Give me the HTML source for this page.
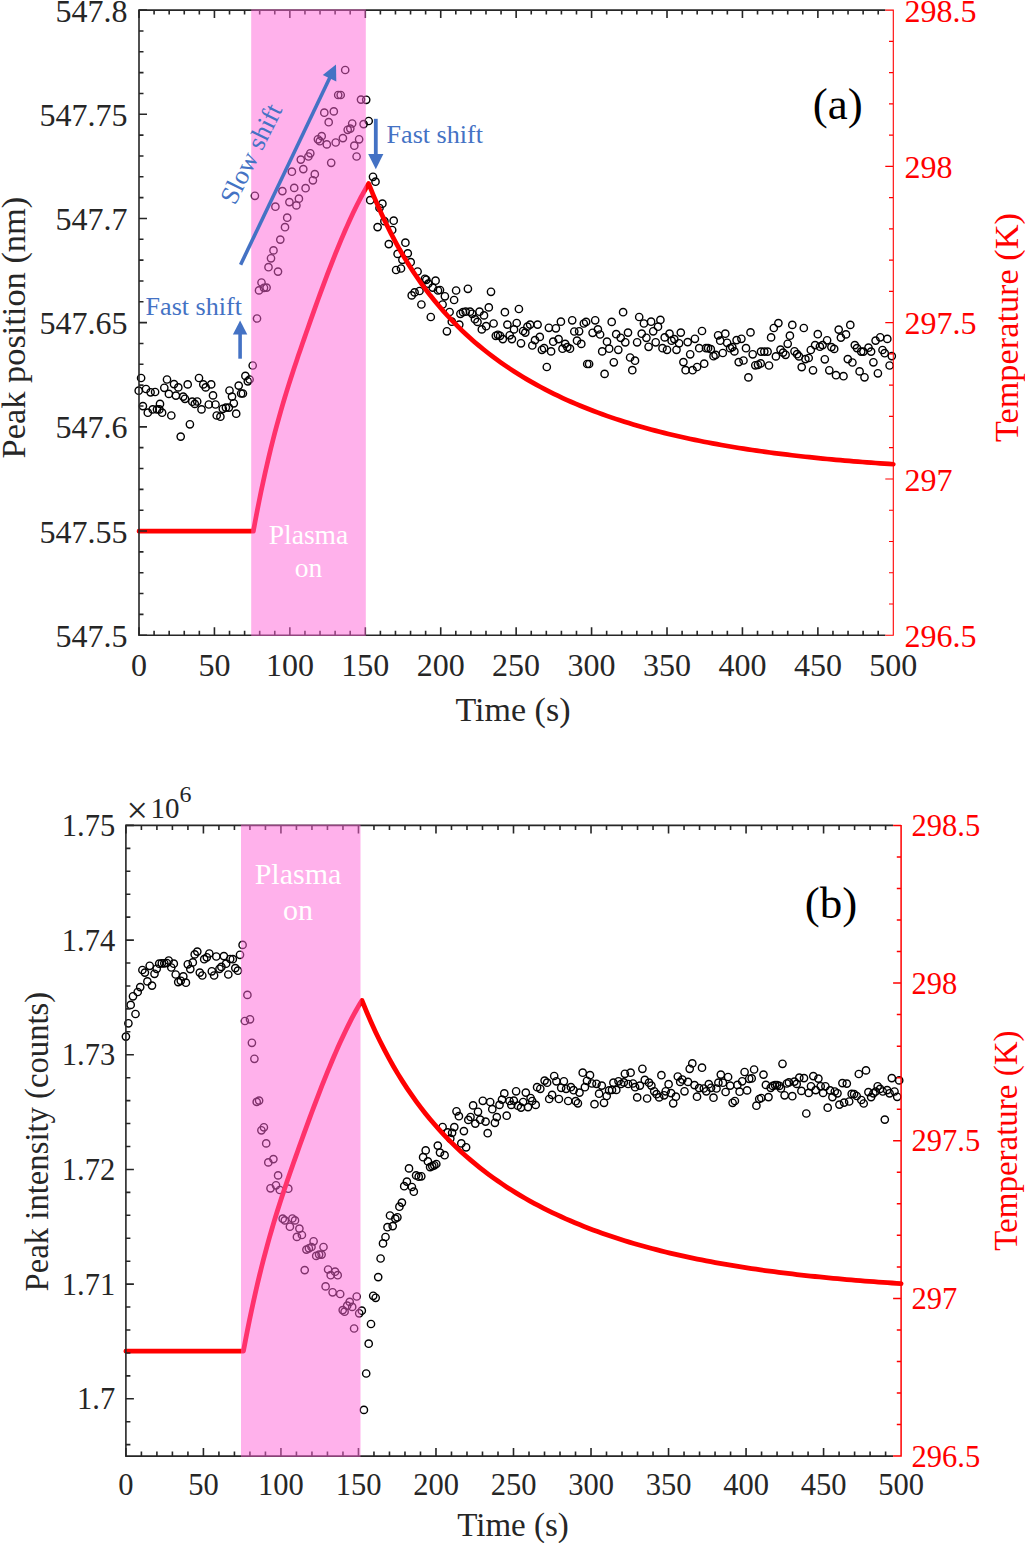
<!DOCTYPE html><html><head><meta charset="utf-8"><style>html,body{margin:0;padding:0;background:#fff}svg{display:block}text{font-family:"Liberation Serif", serif}</style></head><body>
<svg width="1025" height="1543" viewBox="0 0 1025 1543">
<rect width="1025" height="1543" fill="#fff"/>
<g fill="none" stroke="#000" stroke-width="1.40">
<circle cx="141.1" cy="378.0" r="3.65"/>
<circle cx="138.7" cy="390.7" r="3.65"/>
<circle cx="142.9" cy="406.1" r="3.65"/>
<circle cx="146.0" cy="389.0" r="3.65"/>
<circle cx="147.8" cy="412.7" r="3.65"/>
<circle cx="150.6" cy="392.3" r="3.65"/>
<circle cx="152.7" cy="409.4" r="3.65"/>
<circle cx="155.1" cy="392.0" r="3.65"/>
<circle cx="157.0" cy="409.4" r="3.65"/>
<circle cx="160.0" cy="403.9" r="3.65"/>
<circle cx="159.4" cy="409.4" r="3.65"/>
<circle cx="162.1" cy="412.7" r="3.65"/>
<circle cx="164.3" cy="387.8" r="3.65"/>
<circle cx="167.0" cy="379.5" r="3.65"/>
<circle cx="168.9" cy="393.9" r="3.65"/>
<circle cx="171.3" cy="415.5" r="3.65"/>
<circle cx="174.0" cy="384.1" r="3.65"/>
<circle cx="175.9" cy="395.6" r="3.65"/>
<circle cx="178.3" cy="387.4" r="3.65"/>
<circle cx="180.7" cy="436.6" r="3.65"/>
<circle cx="183.2" cy="396.6" r="3.65"/>
<circle cx="185.0" cy="398.8" r="3.65"/>
<circle cx="187.7" cy="384.4" r="3.65"/>
<circle cx="189.9" cy="424.3" r="3.65"/>
<circle cx="192.3" cy="401.7" r="3.65"/>
<circle cx="194.8" cy="403.9" r="3.65"/>
<circle cx="197.2" cy="401.5" r="3.65"/>
<circle cx="199.0" cy="378.0" r="3.65"/>
<circle cx="201.5" cy="409.4" r="3.65"/>
<circle cx="203.3" cy="384.4" r="3.65"/>
<circle cx="205.7" cy="387.4" r="3.65"/>
<circle cx="208.8" cy="404.5" r="3.65"/>
<circle cx="211.2" cy="384.4" r="3.65"/>
<circle cx="213.0" cy="395.4" r="3.65"/>
<circle cx="215.5" cy="404.5" r="3.65"/>
<circle cx="216.7" cy="415.5" r="3.65"/>
<circle cx="220.4" cy="416.7" r="3.65"/>
<circle cx="222.8" cy="408.8" r="3.65"/>
<circle cx="225.9" cy="407.6" r="3.65"/>
<circle cx="228.9" cy="407.6" r="3.65"/>
<circle cx="229.5" cy="390.5" r="3.65"/>
<circle cx="232.0" cy="396.6" r="3.65"/>
<circle cx="233.8" cy="403.3" r="3.65"/>
<circle cx="236.2" cy="413.7" r="3.65"/>
<circle cx="238.7" cy="385.6" r="3.65"/>
<circle cx="241.1" cy="393.5" r="3.65"/>
<circle cx="242.9" cy="393.5" r="3.65"/>
<circle cx="245.4" cy="375.9" r="3.65"/>
<circle cx="247.8" cy="381.3" r="3.65"/>
<circle cx="249.6" cy="379.5" r="3.65"/>
<circle cx="252.7" cy="365.5" r="3.65"/>
<circle cx="345.2" cy="70.0" r="3.65"/>
<circle cx="338.2" cy="95.0" r="3.65"/>
<circle cx="340.7" cy="95.0" r="3.65"/>
<circle cx="361.0" cy="99.6" r="3.65"/>
<circle cx="324.3" cy="112.7" r="3.65"/>
<circle cx="333.8" cy="111.4" r="3.65"/>
<circle cx="328.7" cy="122.2" r="3.65"/>
<circle cx="352.2" cy="123.5" r="3.65"/>
<circle cx="363.6" cy="124.1" r="3.65"/>
<circle cx="347.7" cy="129.8" r="3.65"/>
<circle cx="350.3" cy="128.6" r="3.65"/>
<circle cx="321.7" cy="136.2" r="3.65"/>
<circle cx="317.9" cy="139.3" r="3.65"/>
<circle cx="319.8" cy="141.2" r="3.65"/>
<circle cx="326.8" cy="144.4" r="3.65"/>
<circle cx="335.7" cy="142.5" r="3.65"/>
<circle cx="342.9" cy="138.1" r="3.65"/>
<circle cx="359.1" cy="139.3" r="3.65"/>
<circle cx="354.3" cy="145.7" r="3.65"/>
<circle cx="356.6" cy="156.5" r="3.65"/>
<circle cx="331.2" cy="162.8" r="3.65"/>
<circle cx="310.3" cy="153.3" r="3.65"/>
<circle cx="308.4" cy="156.5" r="3.65"/>
<circle cx="300.8" cy="159.6" r="3.65"/>
<circle cx="303.3" cy="169.1" r="3.65"/>
<circle cx="291.9" cy="171.7" r="3.65"/>
<circle cx="314.8" cy="174.2" r="3.65"/>
<circle cx="312.9" cy="180.3" r="3.65"/>
<circle cx="282.4" cy="191.1" r="3.65"/>
<circle cx="294.2" cy="187.9" r="3.65"/>
<circle cx="305.6" cy="188.2" r="3.65"/>
<circle cx="254.9" cy="195.8" r="3.65"/>
<circle cx="298.9" cy="198.7" r="3.65"/>
<circle cx="289.4" cy="202.1" r="3.65"/>
<circle cx="296.4" cy="205.4" r="3.65"/>
<circle cx="275.4" cy="206.7" r="3.65"/>
<circle cx="287.2" cy="217.7" r="3.65"/>
<circle cx="285.0" cy="227.2" r="3.65"/>
<circle cx="280.3" cy="239.6" r="3.65"/>
<circle cx="273.5" cy="250.4" r="3.65"/>
<circle cx="271.0" cy="258.3" r="3.65"/>
<circle cx="268.5" cy="267.2" r="3.65"/>
<circle cx="278.0" cy="271.6" r="3.65"/>
<circle cx="261.5" cy="282.5" r="3.65"/>
<circle cx="259.0" cy="290.4" r="3.65"/>
<circle cx="264.0" cy="287.8" r="3.65"/>
<circle cx="266.6" cy="287.6" r="3.65"/>
<circle cx="257.0" cy="318.5" r="3.65"/>
<circle cx="366.2" cy="99.8" r="3.65"/>
<circle cx="368.7" cy="121.0" r="3.65"/>
<circle cx="373.0" cy="176.8" r="3.65"/>
<circle cx="375.5" cy="181.7" r="3.65"/>
<circle cx="370.2" cy="200.2" r="3.65"/>
<circle cx="382.4" cy="203.7" r="3.65"/>
<circle cx="379.5" cy="208.0" r="3.65"/>
<circle cx="384.4" cy="221.2" r="3.65"/>
<circle cx="393.7" cy="220.7" r="3.65"/>
<circle cx="377.6" cy="227.1" r="3.65"/>
<circle cx="392.2" cy="230.0" r="3.65"/>
<circle cx="405.4" cy="242.7" r="3.65"/>
<circle cx="388.8" cy="244.1" r="3.65"/>
<circle cx="397.6" cy="253.9" r="3.65"/>
<circle cx="407.8" cy="253.4" r="3.65"/>
<circle cx="402.4" cy="259.8" r="3.65"/>
<circle cx="410.7" cy="262.2" r="3.65"/>
<circle cx="396.1" cy="270.0" r="3.65"/>
<circle cx="401.0" cy="268.5" r="3.65"/>
<circle cx="417.6" cy="271.5" r="3.65"/>
<circle cx="424.9" cy="278.8" r="3.65"/>
<circle cx="426.3" cy="279.8" r="3.65"/>
<circle cx="435.6" cy="280.7" r="3.65"/>
<circle cx="428.3" cy="283.7" r="3.65"/>
<circle cx="432.7" cy="287.6" r="3.65"/>
<circle cx="438.0" cy="290.5" r="3.65"/>
<circle cx="440.0" cy="290.0" r="3.65"/>
<circle cx="456.1" cy="290.5" r="3.65"/>
<circle cx="444.9" cy="296.3" r="3.65"/>
<circle cx="454.1" cy="300.0" r="3.65"/>
<circle cx="411.7" cy="295.4" r="3.65"/>
<circle cx="414.6" cy="292.4" r="3.65"/>
<circle cx="419.5" cy="291.0" r="3.65"/>
<circle cx="421.4" cy="304.5" r="3.65"/>
<circle cx="430.8" cy="317.0" r="3.65"/>
<circle cx="442.6" cy="304.5" r="3.65"/>
<circle cx="449.6" cy="312.0" r="3.65"/>
<circle cx="451.8" cy="321.7" r="3.65"/>
<circle cx="459.3" cy="324.6" r="3.65"/>
<circle cx="446.9" cy="331.3" r="3.65"/>
<circle cx="467.9" cy="288.8" r="3.65"/>
<circle cx="491.0" cy="291.8" r="3.65"/>
<circle cx="460.4" cy="313.8" r="3.65"/>
<circle cx="463.0" cy="312.2" r="3.65"/>
<circle cx="465.7" cy="311.7" r="3.65"/>
<circle cx="470.0" cy="311.7" r="3.65"/>
<circle cx="472.2" cy="313.8" r="3.65"/>
<circle cx="479.5" cy="311.7" r="3.65"/>
<circle cx="484.0" cy="315.4" r="3.65"/>
<circle cx="488.8" cy="307.4" r="3.65"/>
<circle cx="474.9" cy="319.2" r="3.65"/>
<circle cx="477.5" cy="321.9" r="3.65"/>
<circle cx="481.8" cy="329.4" r="3.65"/>
<circle cx="486.1" cy="326.2" r="3.65"/>
<circle cx="493.6" cy="323.5" r="3.65"/>
<circle cx="495.8" cy="335.8" r="3.65"/>
<circle cx="497.9" cy="334.8" r="3.65"/>
<circle cx="500.1" cy="335.8" r="3.65"/>
<circle cx="502.8" cy="339.1" r="3.65"/>
<circle cx="504.9" cy="312.2" r="3.65"/>
<circle cx="507.4" cy="324.6" r="3.65"/>
<circle cx="509.7" cy="335.3" r="3.65"/>
<circle cx="511.9" cy="339.1" r="3.65"/>
<circle cx="514.0" cy="329.4" r="3.65"/>
<circle cx="516.7" cy="323.0" r="3.65"/>
<circle cx="518.9" cy="309.0" r="3.65"/>
<circle cx="521.0" cy="343.3" r="3.65"/>
<circle cx="523.1" cy="331.0" r="3.65"/>
<circle cx="525.3" cy="332.6" r="3.65"/>
<circle cx="527.4" cy="326.7" r="3.65"/>
<circle cx="530.1" cy="324.6" r="3.65"/>
<circle cx="537.6" cy="324.6" r="3.65"/>
<circle cx="532.3" cy="345.5" r="3.65"/>
<circle cx="535.0" cy="340.1" r="3.65"/>
<circle cx="539.8" cy="336.9" r="3.65"/>
<circle cx="541.9" cy="349.8" r="3.65"/>
<circle cx="544.1" cy="348.2" r="3.65"/>
<circle cx="546.8" cy="367.0" r="3.65"/>
<circle cx="548.9" cy="327.8" r="3.65"/>
<circle cx="551.1" cy="351.4" r="3.65"/>
<circle cx="553.2" cy="341.7" r="3.65"/>
<circle cx="555.9" cy="328.3" r="3.65"/>
<circle cx="558.6" cy="339.1" r="3.65"/>
<circle cx="560.9" cy="321.7" r="3.65"/>
<circle cx="572.2" cy="320.3" r="3.65"/>
<circle cx="583.8" cy="323.5" r="3.65"/>
<circle cx="586.1" cy="321.9" r="3.65"/>
<circle cx="595.2" cy="320.3" r="3.65"/>
<circle cx="611.7" cy="321.9" r="3.65"/>
<circle cx="623.1" cy="312.2" r="3.65"/>
<circle cx="574.3" cy="331.5" r="3.65"/>
<circle cx="579.1" cy="331.3" r="3.65"/>
<circle cx="577.0" cy="340.7" r="3.65"/>
<circle cx="581.3" cy="343.9" r="3.65"/>
<circle cx="565.2" cy="343.9" r="3.65"/>
<circle cx="562.5" cy="348.7" r="3.65"/>
<circle cx="567.3" cy="347.1" r="3.65"/>
<circle cx="570.0" cy="348.7" r="3.65"/>
<circle cx="592.6" cy="332.8" r="3.65"/>
<circle cx="597.9" cy="329.4" r="3.65"/>
<circle cx="600.1" cy="334.5" r="3.65"/>
<circle cx="607.0" cy="341.7" r="3.65"/>
<circle cx="609.2" cy="348.7" r="3.65"/>
<circle cx="602.2" cy="351.4" r="3.65"/>
<circle cx="616.2" cy="334.2" r="3.65"/>
<circle cx="620.7" cy="337.8" r="3.65"/>
<circle cx="625.3" cy="342.3" r="3.65"/>
<circle cx="628.0" cy="332.6" r="3.65"/>
<circle cx="618.3" cy="349.8" r="3.65"/>
<circle cx="589.1" cy="364.0" r="3.65"/>
<circle cx="587.2" cy="364.0" r="3.65"/>
<circle cx="613.8" cy="362.3" r="3.65"/>
<circle cx="604.6" cy="373.9" r="3.65"/>
<circle cx="630.1" cy="357.5" r="3.65"/>
<circle cx="635.0" cy="360.7" r="3.65"/>
<circle cx="632.3" cy="370.2" r="3.65"/>
<circle cx="639.2" cy="317.0" r="3.65"/>
<circle cx="643.9" cy="323.5" r="3.65"/>
<circle cx="637.1" cy="342.3" r="3.65"/>
<circle cx="641.7" cy="333.7" r="3.65"/>
<circle cx="646.4" cy="337.8" r="3.65"/>
<circle cx="648.6" cy="346.8" r="3.65"/>
<circle cx="651.1" cy="321.7" r="3.65"/>
<circle cx="653.2" cy="331.3" r="3.65"/>
<circle cx="658.0" cy="326.7" r="3.65"/>
<circle cx="655.7" cy="342.3" r="3.65"/>
<circle cx="660.4" cy="319.9" r="3.65"/>
<circle cx="664.7" cy="337.4" r="3.65"/>
<circle cx="669.5" cy="333.7" r="3.65"/>
<circle cx="671.6" cy="340.7" r="3.65"/>
<circle cx="674.3" cy="339.1" r="3.65"/>
<circle cx="679.1" cy="343.3" r="3.65"/>
<circle cx="680.8" cy="332.6" r="3.65"/>
<circle cx="662.5" cy="348.2" r="3.65"/>
<circle cx="667.0" cy="349.8" r="3.65"/>
<circle cx="676.5" cy="349.8" r="3.65"/>
<circle cx="687.7" cy="342.1" r="3.65"/>
<circle cx="694.9" cy="338.8" r="3.65"/>
<circle cx="702.0" cy="331.0" r="3.65"/>
<circle cx="690.2" cy="354.3" r="3.65"/>
<circle cx="699.2" cy="348.2" r="3.65"/>
<circle cx="706.0" cy="348.2" r="3.65"/>
<circle cx="708.1" cy="348.2" r="3.65"/>
<circle cx="710.8" cy="349.2" r="3.65"/>
<circle cx="683.4" cy="362.1" r="3.65"/>
<circle cx="685.6" cy="370.2" r="3.65"/>
<circle cx="692.6" cy="370.2" r="3.65"/>
<circle cx="697.1" cy="367.0" r="3.65"/>
<circle cx="704.2" cy="363.7" r="3.65"/>
<circle cx="713.5" cy="356.2" r="3.65"/>
<circle cx="715.6" cy="354.9" r="3.65"/>
<circle cx="718.1" cy="335.3" r="3.65"/>
<circle cx="720.2" cy="340.7" r="3.65"/>
<circle cx="725.3" cy="333.7" r="3.65"/>
<circle cx="722.8" cy="353.0" r="3.65"/>
<circle cx="727.1" cy="342.8" r="3.65"/>
<circle cx="730.1" cy="348.2" r="3.65"/>
<circle cx="732.3" cy="347.1" r="3.65"/>
<circle cx="734.4" cy="351.4" r="3.65"/>
<circle cx="736.6" cy="340.1" r="3.65"/>
<circle cx="741.4" cy="338.8" r="3.65"/>
<circle cx="746.0" cy="348.2" r="3.65"/>
<circle cx="750.5" cy="332.4" r="3.65"/>
<circle cx="752.7" cy="354.3" r="3.65"/>
<circle cx="738.7" cy="362.1" r="3.65"/>
<circle cx="743.5" cy="360.5" r="3.65"/>
<circle cx="755.3" cy="365.3" r="3.65"/>
<circle cx="758.0" cy="364.8" r="3.65"/>
<circle cx="748.4" cy="377.4" r="3.65"/>
<circle cx="760.7" cy="363.4" r="3.65"/>
<circle cx="761.0" cy="351.6" r="3.65"/>
<circle cx="764.3" cy="351.6" r="3.65"/>
<circle cx="767.6" cy="351.6" r="3.65"/>
<circle cx="769.0" cy="365.5" r="3.65"/>
<circle cx="771.1" cy="337.4" r="3.65"/>
<circle cx="773.8" cy="328.0" r="3.65"/>
<circle cx="778.4" cy="323.1" r="3.65"/>
<circle cx="775.9" cy="356.4" r="3.65"/>
<circle cx="780.5" cy="349.6" r="3.65"/>
<circle cx="783.1" cy="352.6" r="3.65"/>
<circle cx="785.6" cy="354.8" r="3.65"/>
<circle cx="787.7" cy="343.8" r="3.65"/>
<circle cx="789.9" cy="335.7" r="3.65"/>
<circle cx="792.3" cy="324.9" r="3.65"/>
<circle cx="794.5" cy="351.3" r="3.65"/>
<circle cx="797.1" cy="354.2" r="3.65"/>
<circle cx="799.0" cy="356.4" r="3.65"/>
<circle cx="801.7" cy="367.1" r="3.65"/>
<circle cx="803.8" cy="328.0" r="3.65"/>
<circle cx="805.4" cy="359.1" r="3.65"/>
<circle cx="808.7" cy="358.0" r="3.65"/>
<circle cx="810.8" cy="350.0" r="3.65"/>
<circle cx="813.0" cy="370.3" r="3.65"/>
<circle cx="815.1" cy="345.1" r="3.65"/>
<circle cx="817.8" cy="334.2" r="3.65"/>
<circle cx="819.9" cy="346.7" r="3.65"/>
<circle cx="822.6" cy="345.1" r="3.65"/>
<circle cx="824.8" cy="359.3" r="3.65"/>
<circle cx="827.1" cy="340.3" r="3.65"/>
<circle cx="829.3" cy="370.3" r="3.65"/>
<circle cx="831.4" cy="347.1" r="3.65"/>
<circle cx="834.2" cy="348.9" r="3.65"/>
<circle cx="836.0" cy="375.2" r="3.65"/>
<circle cx="838.7" cy="329.6" r="3.65"/>
<circle cx="840.9" cy="337.6" r="3.65"/>
<circle cx="843.5" cy="376.2" r="3.65"/>
<circle cx="846.0" cy="334.4" r="3.65"/>
<circle cx="847.8" cy="359.1" r="3.65"/>
<circle cx="850.3" cy="324.9" r="3.65"/>
<circle cx="852.4" cy="362.5" r="3.65"/>
<circle cx="854.8" cy="345.1" r="3.65"/>
<circle cx="857.0" cy="348.1" r="3.65"/>
<circle cx="859.6" cy="371.4" r="3.65"/>
<circle cx="861.2" cy="351.6" r="3.65"/>
<circle cx="863.4" cy="351.6" r="3.65"/>
<circle cx="864.5" cy="377.3" r="3.65"/>
<circle cx="868.5" cy="347.7" r="3.65"/>
<circle cx="871.1" cy="351.6" r="3.65"/>
<circle cx="875.6" cy="340.6" r="3.65"/>
<circle cx="880.2" cy="337.3" r="3.65"/>
<circle cx="887.3" cy="338.9" r="3.65"/>
<circle cx="882.5" cy="350.0" r="3.65"/>
<circle cx="884.7" cy="353.2" r="3.65"/>
<circle cx="891.8" cy="356.1" r="3.65"/>
<circle cx="889.6" cy="365.5" r="3.65"/>
<circle cx="877.9" cy="373.3" r="3.65"/>
<circle cx="873.4" cy="362.3" r="3.65"/>
</g>
<path d="M139.00,531.21 L253.35,531.21 L255.31,520.65 L257.26,510.45 L259.22,500.60 L261.17,491.09 L263.13,481.90 L265.08,473.01 L267.04,464.42 L268.99,456.10 L270.94,448.06 L272.90,440.26 L274.85,432.71 L276.81,425.38 L278.76,418.26 L280.72,411.33 L282.67,404.59 L284.63,398.02 L286.58,391.61 L288.54,385.33 L290.49,379.19 L292.45,373.16 L294.40,367.23 L296.36,361.39 L298.31,355.62 L300.27,349.90 L302.22,344.24 L304.18,338.61 L306.13,333.00 L308.09,327.41 L310.04,321.86 L312.00,316.34 L313.95,310.85 L315.91,305.41 L317.86,300.00 L319.81,294.64 L321.77,289.32 L323.72,284.06 L325.68,278.85 L327.63,273.69 L329.59,268.59 L331.54,263.56 L333.50,258.59 L335.45,253.68 L337.41,248.85 L339.36,244.09 L341.32,239.41 L343.27,234.81 L345.23,230.29 L347.18,225.85 L349.14,221.51 L351.09,217.25 L353.05,213.09 L355.00,209.03 L356.96,205.07 L358.91,201.21 L360.87,197.45 L362.82,193.81 L364.77,190.27 L366.73,186.86 L368.68,183.56 L373.09,194.56 L377.50,204.95 L381.91,214.78 L386.32,224.09 L390.73,232.92 L395.14,241.30 L399.54,249.27 L403.95,256.85 L408.36,264.07 L412.77,270.95 L417.18,277.52 L421.59,283.80 L426.00,289.81 L430.40,295.56 L434.81,301.06 L439.22,306.34 L443.63,311.41 L448.04,316.28 L452.45,320.97 L456.86,325.47 L461.26,329.81 L465.67,333.98 L470.08,338.01 L474.49,341.90 L478.90,345.65 L483.31,349.27 L487.71,352.77 L492.12,356.15 L496.53,359.42 L500.94,362.59 L505.35,365.66 L509.76,368.63 L514.17,371.50 L518.57,374.29 L522.98,376.99 L527.39,379.62 L531.80,382.16 L536.21,384.63 L540.62,387.03 L545.03,389.35 L549.43,391.61 L553.84,393.81 L558.25,395.94 L562.66,398.02 L567.07,400.03 L571.48,401.99 L575.89,403.89 L580.29,405.75 L584.70,407.55 L589.11,409.30 L593.52,411.01 L597.93,412.67 L602.34,414.28 L606.75,415.85 L611.15,417.38 L615.56,418.87 L619.97,420.32 L624.38,421.73 L628.79,423.11 L633.20,424.44 L637.60,425.75 L642.01,427.01 L646.42,428.25 L650.83,429.45 L655.24,430.63 L659.65,431.77 L664.06,432.88 L668.46,433.96 L672.87,435.02 L677.28,436.04 L681.69,437.05 L686.10,438.02 L690.51,438.97 L694.92,439.90 L699.32,440.80 L703.73,441.68 L708.14,442.54 L712.55,443.37 L716.96,444.18 L721.37,444.98 L725.78,445.75 L730.18,446.50 L734.59,447.23 L739.00,447.95 L743.41,448.65 L747.82,449.32 L752.23,449.99 L756.64,450.63 L761.04,451.26 L765.45,451.87 L769.86,452.47 L774.27,453.05 L778.68,453.61 L783.09,454.17 L787.50,454.70 L791.90,455.23 L796.31,455.74 L800.72,456.24 L805.13,456.72 L809.54,457.20 L813.95,457.66 L818.35,458.11 L822.76,458.54 L827.17,458.97 L831.58,459.39 L835.99,459.79 L840.40,460.19 L844.81,460.57 L849.21,460.95 L853.62,461.31 L858.03,461.67 L862.44,462.02 L866.85,462.36 L871.26,462.69 L875.67,463.01 L880.07,463.32 L884.48,463.63 L888.89,463.93 L893.30,464.22" fill="none" stroke="#f00" stroke-width="4.7" stroke-linejoin="round" stroke-linecap="round"/>
<g stroke="#262626" stroke-width="1.6" fill="none">
<path d="M139.0,10.1 H885.3 M139.0,635.2 H885.3 M139.0,9.3 V636.0"/>
<path d="M139.00,635.2v-8.0 M139.00,10.1v8.0 M154.09,635.2v-4.5 M154.09,10.1v4.5 M169.17,635.2v-4.5 M169.17,10.1v4.5 M184.26,635.2v-4.5 M184.26,10.1v4.5 M199.34,635.2v-4.5 M199.34,10.1v4.5 M214.43,635.2v-8.0 M214.43,10.1v8.0 M229.52,635.2v-4.5 M229.52,10.1v4.5 M244.60,635.2v-4.5 M244.60,10.1v4.5 M259.69,635.2v-4.5 M259.69,10.1v4.5 M274.77,635.2v-4.5 M274.77,10.1v4.5 M289.86,635.2v-8.0 M289.86,10.1v8.0 M304.95,635.2v-4.5 M304.95,10.1v4.5 M320.03,635.2v-4.5 M320.03,10.1v4.5 M335.12,635.2v-4.5 M335.12,10.1v4.5 M350.20,635.2v-4.5 M350.20,10.1v4.5 M365.29,635.2v-8.0 M365.29,10.1v8.0 M380.38,635.2v-4.5 M380.38,10.1v4.5 M395.46,635.2v-4.5 M395.46,10.1v4.5 M410.55,635.2v-4.5 M410.55,10.1v4.5 M425.63,635.2v-4.5 M425.63,10.1v4.5 M440.72,635.2v-8.0 M440.72,10.1v8.0 M455.81,635.2v-4.5 M455.81,10.1v4.5 M470.89,635.2v-4.5 M470.89,10.1v4.5 M485.98,635.2v-4.5 M485.98,10.1v4.5 M501.06,635.2v-4.5 M501.06,10.1v4.5 M516.15,635.2v-8.0 M516.15,10.1v8.0 M531.24,635.2v-4.5 M531.24,10.1v4.5 M546.32,635.2v-4.5 M546.32,10.1v4.5 M561.41,635.2v-4.5 M561.41,10.1v4.5 M576.49,635.2v-4.5 M576.49,10.1v4.5 M591.58,635.2v-8.0 M591.58,10.1v8.0 M606.67,635.2v-4.5 M606.67,10.1v4.5 M621.75,635.2v-4.5 M621.75,10.1v4.5 M636.84,635.2v-4.5 M636.84,10.1v4.5 M651.92,635.2v-4.5 M651.92,10.1v4.5 M667.01,635.2v-8.0 M667.01,10.1v8.0 M682.10,635.2v-4.5 M682.10,10.1v4.5 M697.18,635.2v-4.5 M697.18,10.1v4.5 M712.27,635.2v-4.5 M712.27,10.1v4.5 M727.35,635.2v-4.5 M727.35,10.1v4.5 M742.44,635.2v-8.0 M742.44,10.1v8.0 M757.53,635.2v-4.5 M757.53,10.1v4.5 M772.61,635.2v-4.5 M772.61,10.1v4.5 M787.70,635.2v-4.5 M787.70,10.1v4.5 M802.78,635.2v-4.5 M802.78,10.1v4.5 M817.87,635.2v-8.0 M817.87,10.1v8.0 M832.96,635.2v-4.5 M832.96,10.1v4.5 M848.04,635.2v-4.5 M848.04,10.1v4.5 M863.13,635.2v-4.5 M863.13,10.1v4.5 M878.21,635.2v-4.5 M878.21,10.1v4.5 M139.0,635.20h8.0 M139.0,614.36h4.5 M139.0,593.53h4.5 M139.0,572.69h4.5 M139.0,551.85h4.5 M139.0,531.02h8.0 M139.0,510.18h4.5 M139.0,489.34h4.5 M139.0,468.51h4.5 M139.0,447.67h4.5 M139.0,426.83h8.0 M139.0,406.00h4.5 M139.0,385.16h4.5 M139.0,364.32h4.5 M139.0,343.49h4.5 M139.0,322.65h8.0 M139.0,301.81h4.5 M139.0,280.98h4.5 M139.0,260.14h4.5 M139.0,239.30h4.5 M139.0,218.47h8.0 M139.0,197.63h4.5 M139.0,176.79h4.5 M139.0,155.96h4.5 M139.0,135.12h4.5 M139.0,114.28h8.0 M139.0,93.45h4.5 M139.0,72.61h4.5 M139.0,51.77h4.5 M139.0,30.94h4.5 M139.0,10.10h8.0"/>
</g>
<g stroke="#f00" stroke-width="1.10" fill="none">
<path d="M893.3,9.6 V635.2 H885.3 M893.3,10.1 h-8.0 M893.3,635.20h-8.0 M893.3,603.94h-4.3 M893.3,572.69h-4.3 M893.3,541.43h-4.3 M893.3,510.18h-4.3 M893.3,478.93h-8.0 M893.3,447.67h-4.3 M893.3,416.42h-4.3 M893.3,385.16h-4.3 M893.3,353.91h-4.3 M893.3,322.65h-8.0 M893.3,291.39h-4.3 M893.3,260.14h-4.3 M893.3,228.88h-4.3 M893.3,197.63h-4.3 M893.3,166.38h-8.0 M893.3,135.12h-4.3 M893.3,103.87h-4.3 M893.3,72.61h-4.3 M893.3,41.36h-4.3 M893.3,10.10h-8.0"/>
</g>
<rect x="251.2" y="9.3" width="114.6" height="626.7" fill="rgb(255,100,215)" fill-opacity="0.5"/>
<g font-size="32.0" fill="#262626" text-anchor="middle">
<text x="139.0" y="675.8">0</text>
<text x="214.4" y="675.8">50</text>
<text x="289.9" y="675.8">100</text>
<text x="365.3" y="675.8">150</text>
<text x="440.7" y="675.8">200</text>
<text x="516.1" y="675.8">250</text>
<text x="591.6" y="675.8">300</text>
<text x="667.0" y="675.8">350</text>
<text x="742.4" y="675.8">400</text>
<text x="817.9" y="675.8">450</text>
<text x="893.3" y="675.8">500</text>
</g>
<g font-size="32.0" fill="#262626" text-anchor="end">
<text x="127.5" y="646.8">547.5</text>
<text x="127.5" y="542.6">547.55</text>
<text x="127.5" y="438.4">547.6</text>
<text x="127.5" y="334.3">547.65</text>
<text x="127.5" y="230.1">547.7</text>
<text x="127.5" y="125.9">547.75</text>
<text x="127.5" y="21.7">547.8</text>
</g>
<g font-size="32.0" fill="#f00" text-anchor="start">
<text x="904.5" y="646.8">296.5</text>
<text x="904.5" y="490.5">297</text>
<text x="904.5" y="334.3">297.5</text>
<text x="904.5" y="178.0">298</text>
<text x="904.5" y="21.7">298.5</text>
</g>
<g fill="none" stroke="#000" stroke-width="1.40">
<circle cx="125.9" cy="1036.6" r="3.65"/>
<circle cx="128.4" cy="1023.3" r="3.65"/>
<circle cx="135.5" cy="1014.0" r="3.65"/>
<circle cx="130.7" cy="1004.9" r="3.65"/>
<circle cx="133.0" cy="996.3" r="3.65"/>
<circle cx="137.7" cy="992.0" r="3.65"/>
<circle cx="140.2" cy="987.1" r="3.65"/>
<circle cx="147.4" cy="981.4" r="3.65"/>
<circle cx="152.0" cy="985.6" r="3.65"/>
<circle cx="142.4" cy="970.0" r="3.65"/>
<circle cx="144.9" cy="972.6" r="3.65"/>
<circle cx="149.7" cy="965.8" r="3.65"/>
<circle cx="154.5" cy="973.8" r="3.65"/>
<circle cx="156.7" cy="968.8" r="3.65"/>
<circle cx="159.2" cy="963.7" r="3.65"/>
<circle cx="161.8" cy="963.3" r="3.65"/>
<circle cx="164.3" cy="963.3" r="3.65"/>
<circle cx="166.8" cy="963.0" r="3.65"/>
<circle cx="168.7" cy="960.5" r="3.65"/>
<circle cx="171.3" cy="967.5" r="3.65"/>
<circle cx="173.8" cy="963.7" r="3.65"/>
<circle cx="175.7" cy="974.5" r="3.65"/>
<circle cx="178.2" cy="982.1" r="3.65"/>
<circle cx="180.8" cy="980.8" r="3.65"/>
<circle cx="183.3" cy="976.4" r="3.65"/>
<circle cx="185.9" cy="982.7" r="3.65"/>
<circle cx="187.8" cy="964.3" r="3.65"/>
<circle cx="190.3" cy="969.1" r="3.65"/>
<circle cx="192.8" cy="962.4" r="3.65"/>
<circle cx="194.7" cy="954.4" r="3.65"/>
<circle cx="197.3" cy="951.6" r="3.65"/>
<circle cx="199.8" cy="972.6" r="3.65"/>
<circle cx="202.3" cy="975.5" r="3.65"/>
<circle cx="204.2" cy="959.2" r="3.65"/>
<circle cx="206.8" cy="957.3" r="3.65"/>
<circle cx="209.3" cy="953.5" r="3.65"/>
<circle cx="211.8" cy="971.3" r="3.65"/>
<circle cx="214.1" cy="975.5" r="3.65"/>
<circle cx="216.3" cy="956.5" r="3.65"/>
<circle cx="219.5" cy="968.8" r="3.65"/>
<circle cx="221.4" cy="966.9" r="3.65"/>
<circle cx="223.9" cy="956.1" r="3.65"/>
<circle cx="226.1" cy="963.7" r="3.65"/>
<circle cx="228.3" cy="974.5" r="3.65"/>
<circle cx="230.2" cy="959.0" r="3.65"/>
<circle cx="232.8" cy="959.2" r="3.65"/>
<circle cx="235.3" cy="968.1" r="3.65"/>
<circle cx="237.9" cy="970.7" r="3.65"/>
<circle cx="240.0" cy="954.8" r="3.65"/>
<circle cx="242.6" cy="944.9" r="3.65"/>
<circle cx="247.4" cy="994.9" r="3.65"/>
<circle cx="244.9" cy="1021.0" r="3.65"/>
<circle cx="250.0" cy="1019.3" r="3.65"/>
<circle cx="251.9" cy="1042.8" r="3.65"/>
<circle cx="254.4" cy="1058.8" r="3.65"/>
<circle cx="256.7" cy="1101.9" r="3.65"/>
<circle cx="259.1" cy="1100.6" r="3.65"/>
<circle cx="263.9" cy="1127.3" r="3.65"/>
<circle cx="261.4" cy="1130.3" r="3.65"/>
<circle cx="266.2" cy="1143.4" r="3.65"/>
<circle cx="273.4" cy="1159.1" r="3.65"/>
<circle cx="268.3" cy="1162.4" r="3.65"/>
<circle cx="278.1" cy="1175.4" r="3.65"/>
<circle cx="276.0" cy="1185.3" r="3.65"/>
<circle cx="270.5" cy="1188.3" r="3.65"/>
<circle cx="279.8" cy="1190.0" r="3.65"/>
<circle cx="288.3" cy="1188.7" r="3.65"/>
<circle cx="282.7" cy="1218.7" r="3.65"/>
<circle cx="284.8" cy="1220.4" r="3.65"/>
<circle cx="292.4" cy="1218.5" r="3.65"/>
<circle cx="295.0" cy="1220.4" r="3.65"/>
<circle cx="289.9" cy="1226.7" r="3.65"/>
<circle cx="299.4" cy="1228.6" r="3.65"/>
<circle cx="301.9" cy="1235.0" r="3.65"/>
<circle cx="296.9" cy="1236.9" r="3.65"/>
<circle cx="313.6" cy="1241.3" r="3.65"/>
<circle cx="306.4" cy="1249.6" r="3.65"/>
<circle cx="308.9" cy="1248.3" r="3.65"/>
<circle cx="311.5" cy="1247.0" r="3.65"/>
<circle cx="323.5" cy="1247.0" r="3.65"/>
<circle cx="316.2" cy="1255.9" r="3.65"/>
<circle cx="319.1" cy="1254.6" r="3.65"/>
<circle cx="321.6" cy="1254.6" r="3.65"/>
<circle cx="304.7" cy="1270.1" r="3.65"/>
<circle cx="328.1" cy="1269.5" r="3.65"/>
<circle cx="330.7" cy="1275.2" r="3.65"/>
<circle cx="335.1" cy="1271.7" r="3.65"/>
<circle cx="337.7" cy="1275.2" r="3.65"/>
<circle cx="325.6" cy="1286.4" r="3.65"/>
<circle cx="332.6" cy="1292.3" r="3.65"/>
<circle cx="340.2" cy="1294.0" r="3.65"/>
<circle cx="356.7" cy="1296.5" r="3.65"/>
<circle cx="349.7" cy="1301.9" r="3.65"/>
<circle cx="347.2" cy="1305.7" r="3.65"/>
<circle cx="352.2" cy="1306.9" r="3.65"/>
<circle cx="342.7" cy="1310.1" r="3.65"/>
<circle cx="344.6" cy="1311.7" r="3.65"/>
<circle cx="359.2" cy="1313.3" r="3.65"/>
<circle cx="354.1" cy="1328.5" r="3.65"/>
<circle cx="361.8" cy="1310.7" r="3.65"/>
<circle cx="378.2" cy="1277.1" r="3.65"/>
<circle cx="373.2" cy="1295.8" r="3.65"/>
<circle cx="375.7" cy="1297.8" r="3.65"/>
<circle cx="371.0" cy="1324.0" r="3.65"/>
<circle cx="368.7" cy="1343.7" r="3.65"/>
<circle cx="366.2" cy="1373.5" r="3.65"/>
<circle cx="363.9" cy="1409.9" r="3.65"/>
<circle cx="380.6" cy="1258.5" r="3.65"/>
<circle cx="383.0" cy="1243.4" r="3.65"/>
<circle cx="385.5" cy="1237.0" r="3.65"/>
<circle cx="387.5" cy="1227.2" r="3.65"/>
<circle cx="392.7" cy="1226.1" r="3.65"/>
<circle cx="390.0" cy="1215.5" r="3.65"/>
<circle cx="395.3" cy="1218.6" r="3.65"/>
<circle cx="397.4" cy="1217.3" r="3.65"/>
<circle cx="399.4" cy="1206.7" r="3.65"/>
<circle cx="401.9" cy="1202.6" r="3.65"/>
<circle cx="404.2" cy="1186.2" r="3.65"/>
<circle cx="411.9" cy="1187.0" r="3.65"/>
<circle cx="413.8" cy="1191.7" r="3.65"/>
<circle cx="406.9" cy="1181.6" r="3.65"/>
<circle cx="409.0" cy="1168.4" r="3.65"/>
<circle cx="416.1" cy="1175.4" r="3.65"/>
<circle cx="418.7" cy="1176.7" r="3.65"/>
<circle cx="421.3" cy="1176.3" r="3.65"/>
<circle cx="425.7" cy="1150.4" r="3.65"/>
<circle cx="423.1" cy="1157.2" r="3.65"/>
<circle cx="427.9" cy="1161.4" r="3.65"/>
<circle cx="430.1" cy="1167.1" r="3.65"/>
<circle cx="432.3" cy="1166.2" r="3.65"/>
<circle cx="434.3" cy="1165.3" r="3.65"/>
<circle cx="436.3" cy="1164.0" r="3.65"/>
<circle cx="437.8" cy="1145.6" r="3.65"/>
<circle cx="440.0" cy="1152.6" r="3.65"/>
<circle cx="444.6" cy="1155.2" r="3.65"/>
<circle cx="442.6" cy="1127.0" r="3.65"/>
<circle cx="447.7" cy="1132.4" r="3.65"/>
<circle cx="450.3" cy="1138.6" r="3.65"/>
<circle cx="452.1" cy="1132.8" r="3.65"/>
<circle cx="454.3" cy="1127.1" r="3.65"/>
<circle cx="461.3" cy="1143.4" r="3.65"/>
<circle cx="466.1" cy="1147.3" r="3.65"/>
<circle cx="463.9" cy="1131.1" r="3.65"/>
<circle cx="456.5" cy="1111.3" r="3.65"/>
<circle cx="458.9" cy="1116.2" r="3.65"/>
<circle cx="468.3" cy="1119.9" r="3.65"/>
<circle cx="470.5" cy="1117.0" r="3.65"/>
<circle cx="473.1" cy="1105.4" r="3.65"/>
<circle cx="478.0" cy="1111.8" r="3.65"/>
<circle cx="475.3" cy="1123.6" r="3.65"/>
<circle cx="480.2" cy="1119.7" r="3.65"/>
<circle cx="482.8" cy="1100.8" r="3.65"/>
<circle cx="485.6" cy="1121.6" r="3.65"/>
<circle cx="487.7" cy="1133.2" r="3.65"/>
<circle cx="490.2" cy="1102.0" r="3.65"/>
<circle cx="492.3" cy="1109.2" r="3.65"/>
<circle cx="496.8" cy="1117.1" r="3.65"/>
<circle cx="494.9" cy="1122.8" r="3.65"/>
<circle cx="499.5" cy="1104.9" r="3.65"/>
<circle cx="502.0" cy="1099.6" r="3.65"/>
<circle cx="504.3" cy="1093.4" r="3.65"/>
<circle cx="506.7" cy="1115.7" r="3.65"/>
<circle cx="509.5" cy="1101.0" r="3.65"/>
<circle cx="511.3" cy="1104.9" r="3.65"/>
<circle cx="513.8" cy="1100.6" r="3.65"/>
<circle cx="516.1" cy="1091.3" r="3.65"/>
<circle cx="517.8" cy="1105.7" r="3.65"/>
<circle cx="521.0" cy="1107.6" r="3.65"/>
<circle cx="523.1" cy="1102.0" r="3.65"/>
<circle cx="525.8" cy="1092.6" r="3.65"/>
<circle cx="528.0" cy="1107.1" r="3.65"/>
<circle cx="530.6" cy="1098.0" r="3.65"/>
<circle cx="532.2" cy="1101.0" r="3.65"/>
<circle cx="535.7" cy="1104.9" r="3.65"/>
<circle cx="537.1" cy="1087.2" r="3.65"/>
<circle cx="540.3" cy="1088.8" r="3.65"/>
<circle cx="544.6" cy="1080.6" r="3.65"/>
<circle cx="547.1" cy="1082.7" r="3.65"/>
<circle cx="549.2" cy="1099.0" r="3.65"/>
<circle cx="552.1" cy="1094.9" r="3.65"/>
<circle cx="554.2" cy="1076.0" r="3.65"/>
<circle cx="556.4" cy="1081.3" r="3.65"/>
<circle cx="558.9" cy="1099.0" r="3.65"/>
<circle cx="563.9" cy="1081.3" r="3.65"/>
<circle cx="561.2" cy="1087.8" r="3.65"/>
<circle cx="566.1" cy="1088.8" r="3.65"/>
<circle cx="570.9" cy="1087.2" r="3.65"/>
<circle cx="573.6" cy="1090.2" r="3.65"/>
<circle cx="568.2" cy="1101.0" r="3.65"/>
<circle cx="575.7" cy="1101.2" r="3.65"/>
<circle cx="577.9" cy="1103.3" r="3.65"/>
<circle cx="579.5" cy="1092.6" r="3.65"/>
<circle cx="582.7" cy="1072.7" r="3.65"/>
<circle cx="584.9" cy="1087.2" r="3.65"/>
<circle cx="590.0" cy="1075.2" r="3.65"/>
<circle cx="587.0" cy="1080.8" r="3.65"/>
<circle cx="592.0" cy="1083.5" r="3.65"/>
<circle cx="594.5" cy="1104.2" r="3.65"/>
<circle cx="596.5" cy="1083.8" r="3.65"/>
<circle cx="599.1" cy="1093.7" r="3.65"/>
<circle cx="601.8" cy="1085.6" r="3.65"/>
<circle cx="604.0" cy="1102.8" r="3.65"/>
<circle cx="606.7" cy="1096.0" r="3.65"/>
<circle cx="609.1" cy="1090.4" r="3.65"/>
<circle cx="612.0" cy="1089.9" r="3.65"/>
<circle cx="613.4" cy="1082.7" r="3.65"/>
<circle cx="616.3" cy="1089.9" r="3.65"/>
<circle cx="618.5" cy="1081.3" r="3.65"/>
<circle cx="621.1" cy="1084.0" r="3.65"/>
<circle cx="624.9" cy="1073.8" r="3.65"/>
<circle cx="623.8" cy="1082.4" r="3.65"/>
<circle cx="628.1" cy="1084.0" r="3.65"/>
<circle cx="630.6" cy="1072.7" r="3.65"/>
<circle cx="633.0" cy="1083.5" r="3.65"/>
<circle cx="635.1" cy="1087.2" r="3.65"/>
<circle cx="637.2" cy="1097.4" r="3.65"/>
<circle cx="639.9" cy="1085.6" r="3.65"/>
<circle cx="642.4" cy="1068.8" r="3.65"/>
<circle cx="644.8" cy="1079.9" r="3.65"/>
<circle cx="647.1" cy="1098.5" r="3.65"/>
<circle cx="649.0" cy="1082.7" r="3.65"/>
<circle cx="651.4" cy="1085.6" r="3.65"/>
<circle cx="654.2" cy="1091.3" r="3.65"/>
<circle cx="656.6" cy="1094.2" r="3.65"/>
<circle cx="659.2" cy="1097.4" r="3.65"/>
<circle cx="661.4" cy="1075.2" r="3.65"/>
<circle cx="664.1" cy="1095.3" r="3.65"/>
<circle cx="665.7" cy="1091.3" r="3.65"/>
<circle cx="668.6" cy="1084.2" r="3.65"/>
<circle cx="671.1" cy="1093.1" r="3.65"/>
<circle cx="673.2" cy="1103.3" r="3.65"/>
<circle cx="675.9" cy="1096.7" r="3.65"/>
<circle cx="677.8" cy="1076.5" r="3.65"/>
<circle cx="680.2" cy="1081.9" r="3.65"/>
<circle cx="682.3" cy="1079.5" r="3.65"/>
<circle cx="684.5" cy="1091.3" r="3.65"/>
<circle cx="688.0" cy="1081.9" r="3.65"/>
<circle cx="689.7" cy="1068.8" r="3.65"/>
<circle cx="692.3" cy="1063.4" r="3.65"/>
<circle cx="694.5" cy="1085.1" r="3.65"/>
<circle cx="697.0" cy="1096.7" r="3.65"/>
<circle cx="699.1" cy="1088.1" r="3.65"/>
<circle cx="702.0" cy="1067.7" r="3.65"/>
<circle cx="703.8" cy="1088.5" r="3.65"/>
<circle cx="706.3" cy="1091.3" r="3.65"/>
<circle cx="708.8" cy="1084.2" r="3.65"/>
<circle cx="711.1" cy="1087.8" r="3.65"/>
<circle cx="713.5" cy="1097.7" r="3.65"/>
<circle cx="716.5" cy="1088.5" r="3.65"/>
<circle cx="718.4" cy="1082.7" r="3.65"/>
<circle cx="720.8" cy="1074.6" r="3.65"/>
<circle cx="722.9" cy="1082.7" r="3.65"/>
<circle cx="725.6" cy="1092.0" r="3.65"/>
<circle cx="728.1" cy="1077.0" r="3.65"/>
<circle cx="730.2" cy="1085.6" r="3.65"/>
<circle cx="732.6" cy="1102.8" r="3.65"/>
<circle cx="734.9" cy="1101.0" r="3.65"/>
<circle cx="737.4" cy="1084.9" r="3.65"/>
<circle cx="739.6" cy="1091.7" r="3.65"/>
<circle cx="742.2" cy="1081.3" r="3.65"/>
<circle cx="744.6" cy="1072.0" r="3.65"/>
<circle cx="747.1" cy="1090.4" r="3.65"/>
<circle cx="749.2" cy="1078.8" r="3.65"/>
<circle cx="751.7" cy="1078.4" r="3.65"/>
<circle cx="754.1" cy="1069.5" r="3.65"/>
<circle cx="756.4" cy="1105.7" r="3.65"/>
<circle cx="759.2" cy="1099.0" r="3.65"/>
<circle cx="761.3" cy="1098.0" r="3.65"/>
<circle cx="763.5" cy="1074.6" r="3.65"/>
<circle cx="765.9" cy="1084.9" r="3.65"/>
<circle cx="768.5" cy="1097.1" r="3.65"/>
<circle cx="770.7" cy="1087.8" r="3.65"/>
<circle cx="772.8" cy="1085.9" r="3.65"/>
<circle cx="775.0" cy="1085.1" r="3.65"/>
<circle cx="777.1" cy="1085.1" r="3.65"/>
<circle cx="779.3" cy="1085.9" r="3.65"/>
<circle cx="780.9" cy="1088.5" r="3.65"/>
<circle cx="782.5" cy="1063.8" r="3.65"/>
<circle cx="784.6" cy="1095.3" r="3.65"/>
<circle cx="786.8" cy="1083.5" r="3.65"/>
<circle cx="788.9" cy="1082.4" r="3.65"/>
<circle cx="792.3" cy="1096.2" r="3.65"/>
<circle cx="794.4" cy="1081.6" r="3.65"/>
<circle cx="796.7" cy="1083.9" r="3.65"/>
<circle cx="799.3" cy="1077.7" r="3.65"/>
<circle cx="801.4" cy="1090.9" r="3.65"/>
<circle cx="804.0" cy="1078.1" r="3.65"/>
<circle cx="806.3" cy="1113.5" r="3.65"/>
<circle cx="808.7" cy="1092.9" r="3.65"/>
<circle cx="811.0" cy="1086.3" r="3.65"/>
<circle cx="813.3" cy="1076.1" r="3.65"/>
<circle cx="815.7" cy="1090.1" r="3.65"/>
<circle cx="818.4" cy="1078.6" r="3.65"/>
<circle cx="820.7" cy="1086.3" r="3.65"/>
<circle cx="823.1" cy="1092.9" r="3.65"/>
<circle cx="825.4" cy="1086.3" r="3.65"/>
<circle cx="827.7" cy="1107.7" r="3.65"/>
<circle cx="830.1" cy="1090.4" r="3.65"/>
<circle cx="832.4" cy="1097.1" r="3.65"/>
<circle cx="834.8" cy="1091.5" r="3.65"/>
<circle cx="837.5" cy="1093.3" r="3.65"/>
<circle cx="839.4" cy="1104.6" r="3.65"/>
<circle cx="842.4" cy="1083.1" r="3.65"/>
<circle cx="844.1" cy="1102.6" r="3.65"/>
<circle cx="846.8" cy="1083.6" r="3.65"/>
<circle cx="849.2" cy="1101.5" r="3.65"/>
<circle cx="851.7" cy="1093.9" r="3.65"/>
<circle cx="854.1" cy="1094.1" r="3.65"/>
<circle cx="856.7" cy="1096.0" r="3.65"/>
<circle cx="858.8" cy="1074.0" r="3.65"/>
<circle cx="861.3" cy="1100.0" r="3.65"/>
<circle cx="863.7" cy="1103.5" r="3.65"/>
<circle cx="866.0" cy="1070.4" r="3.65"/>
<circle cx="868.4" cy="1092.1" r="3.65"/>
<circle cx="871.1" cy="1097.1" r="3.65"/>
<circle cx="873.4" cy="1093.3" r="3.65"/>
<circle cx="875.7" cy="1091.5" r="3.65"/>
<circle cx="877.7" cy="1086.3" r="3.65"/>
<circle cx="880.1" cy="1088.9" r="3.65"/>
<circle cx="882.8" cy="1091.5" r="3.65"/>
<circle cx="884.8" cy="1119.6" r="3.65"/>
<circle cx="887.1" cy="1090.1" r="3.65"/>
<circle cx="889.6" cy="1093.3" r="3.65"/>
<circle cx="891.8" cy="1078.1" r="3.65"/>
<circle cx="894.5" cy="1091.5" r="3.65"/>
<circle cx="897.2" cy="1096.8" r="3.65"/>
<circle cx="899.2" cy="1080.4" r="3.65"/>
</g>
<path d="M125.90,1351.18 L243.42,1351.18 L245.43,1340.52 L247.44,1330.24 L249.45,1320.30 L251.46,1310.70 L253.47,1301.42 L255.47,1292.46 L257.48,1283.79 L259.49,1275.40 L261.50,1267.28 L263.51,1259.42 L265.52,1251.79 L267.53,1244.40 L269.54,1237.21 L271.55,1230.23 L273.55,1223.43 L275.56,1216.80 L277.57,1210.32 L279.58,1203.99 L281.59,1197.79 L283.60,1191.71 L285.61,1185.73 L287.62,1179.83 L289.63,1174.01 L291.64,1168.25 L293.64,1162.53 L295.65,1156.85 L297.66,1151.19 L299.67,1145.56 L301.68,1139.95 L303.69,1134.38 L305.70,1128.85 L307.71,1123.35 L309.72,1117.90 L311.72,1112.49 L313.73,1107.12 L315.74,1101.81 L317.75,1096.55 L319.76,1091.35 L321.77,1086.21 L323.78,1081.13 L325.79,1076.11 L327.80,1071.17 L329.81,1066.29 L331.81,1061.49 L333.82,1056.77 L335.83,1052.12 L337.84,1047.56 L339.85,1043.09 L341.86,1038.70 L343.87,1034.41 L345.88,1030.21 L347.89,1026.11 L349.89,1022.11 L351.90,1018.22 L353.91,1014.43 L355.92,1010.75 L357.93,1007.19 L359.94,1003.74 L361.95,1000.41 L366.48,1011.51 L371.01,1022.00 L375.54,1031.91 L380.07,1041.31 L384.60,1050.21 L389.13,1058.67 L393.66,1066.71 L398.19,1074.36 L402.72,1081.64 L407.26,1088.59 L411.79,1095.22 L416.32,1101.55 L420.85,1107.61 L425.38,1113.41 L429.91,1118.97 L434.44,1124.30 L438.97,1129.41 L443.50,1134.33 L448.03,1139.05 L452.56,1143.60 L457.09,1147.97 L461.62,1152.19 L466.15,1156.25 L470.68,1160.17 L475.22,1163.95 L479.75,1167.61 L484.28,1171.14 L488.81,1174.55 L493.34,1177.85 L497.87,1181.05 L502.40,1184.14 L506.93,1187.14 L511.46,1190.04 L515.99,1192.85 L520.52,1195.58 L525.05,1198.23 L529.58,1200.79 L534.11,1203.28 L538.65,1205.70 L543.18,1208.05 L547.71,1210.33 L552.24,1212.55 L556.77,1214.70 L561.30,1216.79 L565.83,1218.82 L570.36,1220.80 L574.89,1222.72 L579.42,1224.59 L583.95,1226.41 L588.48,1228.18 L593.01,1229.90 L597.54,1231.57 L602.07,1233.20 L606.61,1234.79 L611.14,1236.33 L615.67,1237.83 L620.20,1239.30 L624.73,1240.72 L629.26,1242.11 L633.79,1243.46 L638.32,1244.77 L642.85,1246.05 L647.38,1247.30 L651.91,1248.51 L656.44,1249.69 L660.97,1250.84 L665.50,1251.97 L670.04,1253.06 L674.57,1254.12 L679.10,1255.16 L683.63,1256.17 L688.16,1257.16 L692.69,1258.11 L697.22,1259.05 L701.75,1259.96 L706.28,1260.85 L710.81,1261.71 L715.34,1262.55 L719.87,1263.37 L724.40,1264.17 L728.93,1264.95 L733.46,1265.71 L738.00,1266.45 L742.53,1267.17 L747.06,1267.87 L751.59,1268.56 L756.12,1269.23 L760.65,1269.88 L765.18,1270.51 L769.71,1271.13 L774.24,1271.73 L778.77,1272.32 L783.30,1272.89 L787.83,1273.44 L792.36,1273.99 L796.89,1274.52 L801.42,1275.03 L805.96,1275.53 L810.49,1276.02 L815.02,1276.50 L819.55,1276.97 L824.08,1277.42 L828.61,1277.86 L833.14,1278.29 L837.67,1278.71 L842.20,1279.12 L846.73,1279.52 L851.26,1279.91 L855.79,1280.29 L860.32,1280.66 L864.85,1281.02 L869.39,1281.37 L873.92,1281.71 L878.45,1282.04 L882.98,1282.37 L887.51,1282.68 L892.04,1282.99 L896.57,1283.29 L901.10,1283.58" fill="none" stroke="#f00" stroke-width="4.8" stroke-linejoin="round" stroke-linecap="round"/>
<g stroke="#262626" stroke-width="1.6" fill="none">
<path d="M125.9,825.4 H893.1 M125.9,1456.1 H893.1 M125.9,824.6 V1456.9"/>
<path d="M125.90,1456.1v-8.0 M125.90,825.4v8.0 M141.40,1456.1v-4.5 M141.40,825.4v4.5 M156.91,1456.1v-4.5 M156.91,825.4v4.5 M172.41,1456.1v-4.5 M172.41,825.4v4.5 M187.92,1456.1v-4.5 M187.92,825.4v4.5 M203.42,1456.1v-8.0 M203.42,825.4v8.0 M218.92,1456.1v-4.5 M218.92,825.4v4.5 M234.43,1456.1v-4.5 M234.43,825.4v4.5 M249.93,1456.1v-4.5 M249.93,825.4v4.5 M265.44,1456.1v-4.5 M265.44,825.4v4.5 M280.94,1456.1v-8.0 M280.94,825.4v8.0 M296.44,1456.1v-4.5 M296.44,825.4v4.5 M311.95,1456.1v-4.5 M311.95,825.4v4.5 M327.45,1456.1v-4.5 M327.45,825.4v4.5 M342.96,1456.1v-4.5 M342.96,825.4v4.5 M358.46,1456.1v-8.0 M358.46,825.4v8.0 M373.96,1456.1v-4.5 M373.96,825.4v4.5 M389.47,1456.1v-4.5 M389.47,825.4v4.5 M404.97,1456.1v-4.5 M404.97,825.4v4.5 M420.48,1456.1v-4.5 M420.48,825.4v4.5 M435.98,1456.1v-8.0 M435.98,825.4v8.0 M451.48,1456.1v-4.5 M451.48,825.4v4.5 M466.99,1456.1v-4.5 M466.99,825.4v4.5 M482.49,1456.1v-4.5 M482.49,825.4v4.5 M498.00,1456.1v-4.5 M498.00,825.4v4.5 M513.50,1456.1v-8.0 M513.50,825.4v8.0 M529.00,1456.1v-4.5 M529.00,825.4v4.5 M544.51,1456.1v-4.5 M544.51,825.4v4.5 M560.01,1456.1v-4.5 M560.01,825.4v4.5 M575.52,1456.1v-4.5 M575.52,825.4v4.5 M591.02,1456.1v-8.0 M591.02,825.4v8.0 M606.52,1456.1v-4.5 M606.52,825.4v4.5 M622.03,1456.1v-4.5 M622.03,825.4v4.5 M637.53,1456.1v-4.5 M637.53,825.4v4.5 M653.04,1456.1v-4.5 M653.04,825.4v4.5 M668.54,1456.1v-8.0 M668.54,825.4v8.0 M684.04,1456.1v-4.5 M684.04,825.4v4.5 M699.55,1456.1v-4.5 M699.55,825.4v4.5 M715.05,1456.1v-4.5 M715.05,825.4v4.5 M730.56,1456.1v-4.5 M730.56,825.4v4.5 M746.06,1456.1v-8.0 M746.06,825.4v8.0 M761.56,1456.1v-4.5 M761.56,825.4v4.5 M777.07,1456.1v-4.5 M777.07,825.4v4.5 M792.57,1456.1v-4.5 M792.57,825.4v4.5 M808.08,1456.1v-4.5 M808.08,825.4v4.5 M823.58,1456.1v-8.0 M823.58,825.4v8.0 M839.08,1456.1v-4.5 M839.08,825.4v4.5 M854.59,1456.1v-4.5 M854.59,825.4v4.5 M870.09,1456.1v-4.5 M870.09,825.4v4.5 M885.60,1456.1v-4.5 M885.60,825.4v4.5 M125.9,1444.67h4.5 M125.9,1421.74h4.5 M125.9,1398.80h8.0 M125.9,1375.86h4.5 M125.9,1352.93h4.5 M125.9,1329.99h4.5 M125.9,1307.06h4.5 M125.9,1284.12h8.0 M125.9,1261.18h4.5 M125.9,1238.25h4.5 M125.9,1215.31h4.5 M125.9,1192.38h4.5 M125.9,1169.44h8.0 M125.9,1146.50h4.5 M125.9,1123.57h4.5 M125.9,1100.63h4.5 M125.9,1077.70h4.5 M125.9,1054.76h8.0 M125.9,1031.82h4.5 M125.9,1008.89h4.5 M125.9,985.95h4.5 M125.9,963.02h4.5 M125.9,940.08h8.0 M125.9,917.14h4.5 M125.9,894.21h4.5 M125.9,871.27h4.5 M125.9,848.34h4.5 M125.9,825.40h8.0"/>
</g>
<g stroke="#f00" stroke-width="1.50" fill="none">
<path d="M901.1,824.9 V1456.1 H893.1 M901.1,825.4 h-8.0 M901.1,1456.10h-8.0 M901.1,1424.56h-4.3 M901.1,1393.03h-4.3 M901.1,1361.49h-4.3 M901.1,1329.96h-4.3 M901.1,1298.42h-8.0 M901.1,1266.89h-4.3 M901.1,1235.36h-4.3 M901.1,1203.82h-4.3 M901.1,1172.29h-4.3 M901.1,1140.75h-8.0 M901.1,1109.21h-4.3 M901.1,1077.68h-4.3 M901.1,1046.14h-4.3 M901.1,1014.61h-4.3 M901.1,983.07h-8.0 M901.1,951.54h-4.3 M901.1,920.01h-4.3 M901.1,888.47h-4.3 M901.1,856.94h-4.3 M901.1,825.40h-8.0"/>
</g>
<rect x="241.0" y="824.6" width="119.5" height="632.3" fill="rgb(255,100,215)" fill-opacity="0.5"/>
<g font-size="30.5" fill="#262626" text-anchor="middle">
<text x="125.9" y="1495.0">0</text>
<text x="203.4" y="1495.0">50</text>
<text x="280.9" y="1495.0">100</text>
<text x="358.5" y="1495.0">150</text>
<text x="436.0" y="1495.0">200</text>
<text x="513.5" y="1495.0">250</text>
<text x="591.0" y="1495.0">300</text>
<text x="668.5" y="1495.0">350</text>
<text x="746.1" y="1495.0">400</text>
<text x="823.6" y="1495.0">450</text>
<text x="901.1" y="1495.0">500</text>
</g>
<g font-size="30.5" fill="#262626" text-anchor="end">
<text x="115.2" y="1409.2">1.7</text>
<text x="115.2" y="1294.5">1.71</text>
<text x="115.2" y="1179.8">1.72</text>
<text x="115.2" y="1065.2">1.73</text>
<text x="115.2" y="950.5">1.74</text>
<text x="115.2" y="835.8">1.75</text>
</g>
<g font-size="30.5" fill="#f00" text-anchor="start">
<text x="911.5" y="1466.5">296.5</text>
<text x="911.5" y="1308.8">297</text>
<text x="911.5" y="1151.2">297.5</text>
<text x="911.5" y="993.5">298</text>
<text x="911.5" y="835.8">298.5</text>
</g>
<text x="513" y="721" font-size="34" fill="#262626" text-anchor="middle">Time (s)</text>
<text x="513" y="1535.7" font-size="33" fill="#262626" text-anchor="middle">Time (s)</text>
<text transform="translate(25.0,327.6) rotate(-90)" font-size="34.4" fill="#262626" text-anchor="middle">Peak position (nm)</text>
<text transform="translate(48,1141.6) rotate(-90)" font-size="32.7" fill="#262626" text-anchor="middle">Peak intensity (counts)</text>
<text transform="translate(1018.4,327.6) rotate(-90)" font-size="34.3" fill="#f00" text-anchor="middle">Temperature (K)</text>
<text transform="translate(1017.1,1140.6) rotate(-90)" font-size="33" fill="#f00" text-anchor="middle">Temperature (K)</text>
<text x="837.7" y="119" font-size="45" text-anchor="middle">(a)</text>
<text x="831" y="917.8" font-size="45" text-anchor="middle">(b)</text>
<text x="126.6" y="822.8" font-size="38" fill="#262626">&#215;</text><text x="150.6" y="818.3" font-size="29" fill="#262626">10</text><text x="179.5" y="802" font-size="24" fill="#262626">6</text>
<g fill="#fff" text-anchor="middle"><text x="308.5" y="544" font-size="27.5">Plasma</text><text x="308.5" y="576.7" font-size="27.5">on</text>
<text x="298" y="884.1" font-size="30">Plasma</text><text x="298" y="919.6" font-size="30">on</text></g>
<g fill="#4472C4" font-size="26.1"><text x="145.6" y="315.1">Fast shift</text><text x="386.6" y="142.7">Fast shift</text></g>
<line x1="240.1" y1="358.7" x2="240.1" y2="333.4" stroke="#4472C4" stroke-width="3.6"/><polygon points="240.1,320.4 247.3,334.4 232.9,334.4" fill="#4472C4"/>
<line x1="375.8" y1="118.8" x2="375.8" y2="155.1" stroke="#4472C4" stroke-width="3.8"/><polygon points="375.8,169.3 368.2,154.1 383.4,154.1" fill="#4472C4"/>
<line x1="240.6" y1="264.7" x2="330.0" y2="77.2" stroke="#4472C4" stroke-width="3.6"/><polygon points="336.0,64.6 336.3,81.4 322.8,74.9" fill="#4472C4"/>
<text transform="translate(258.9,157.8) rotate(-63.6)" font-size="26.4" fill="#4472C4" text-anchor="middle" dy="0">Slow shift</text>
</svg></body></html>
